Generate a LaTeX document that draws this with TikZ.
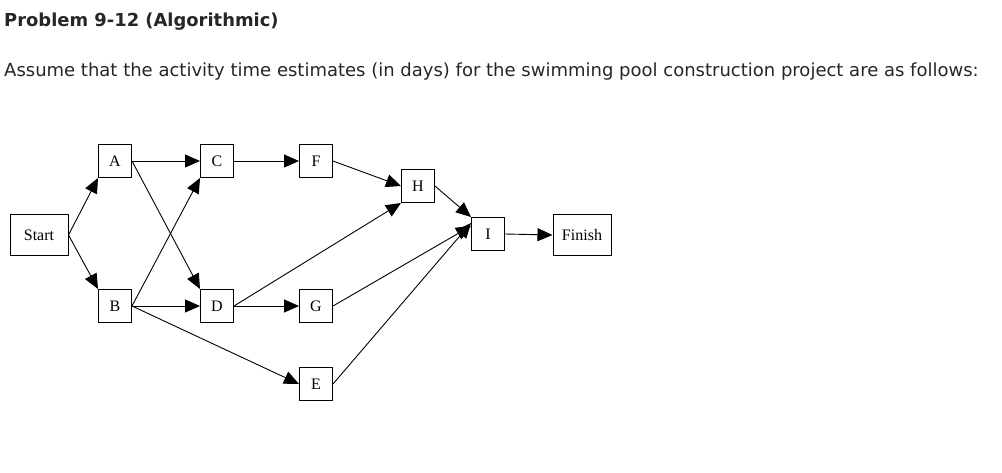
\documentclass[tikz,border=0pt]{standalone}
\usepackage{fontspec}
\setmainfont{Liberation Serif}
\newfontfamily\uifont{DejaVu Sans}
\usetikzlibrary{arrows.meta}
\begin{document}
\begin{tikzpicture}[x=1pt,y=-1pt,
  box/.style={draw,line width=1pt,fill=white,minimum height=33pt,minimum width=33pt,inner sep=2pt,font=\fontsize{16}{18}\selectfont},
  wbox/.style={box,minimum width=58pt,minimum height=41pt},
  ar/.style={draw,line width=0.9pt,-{Triangle[length=15pt,width=13pt]}},
  txt/.style={anchor=west,inner sep=0pt,font=\uifont\fontsize{18}{20}\selectfont,text=black!85}]
\useasboundingbox (0,0) rectangle (1002,472);
\node[txt,font=\uifont\bfseries\fontsize{17.9}{20}\selectfont] (t1) at (4,22) {Problem 9-12 (Algorithmic)};
\node[txt] (t2) at (4,72) {Assume that the activity time estimates (in days) for the swimming pool construction project are as follows:};
\node[wbox] (S) at (39,235) {Start};
\node[box] (A) at (115,161) {A};
\node[box] (B) at (115,306) {B};
\node[box] (C) at (217,161) {C};
\node[box] (D) at (217,306) {D};
\node[box] (F) at (316,161) {F};
\node[box] (G) at (316,306) {G};
\node[box] (E) at (316,384) {E};
\node[box] (H) at (418,186) {H};
\node[box] (I) at (488,234) {I};
\node[wbox] (Fi) at (582,235) {Finish};
\draw[ar] (S.east) -- (A.south west);
\draw[ar] (S.east) -- (B.north west);
\draw[ar] (A.east) -- (C.west);
\draw[ar] (A.east) -- (D.north west);
\draw[ar] (B.east) -- (C.south west);
\draw[ar] (B.east) -- (D.west);
\draw[ar] (B.east) -- (E.west);
\draw[ar] (C.east) -- (F.west);
\draw[ar] (F.east) -- (H.west);
\draw[ar] (D.east) -- (H.south west);
\draw[ar] (D.east) -- (G.west);
\draw[ar] (H.east) -- (I.north west);
\draw[ar] (G.east) -- ([yshift=8pt]I.west);
\draw[ar] (E.east) -- ([yshift=11pt]I.west);
\draw[ar] (I.east) -- (Fi.west);
\end{tikzpicture}
\end{document}
